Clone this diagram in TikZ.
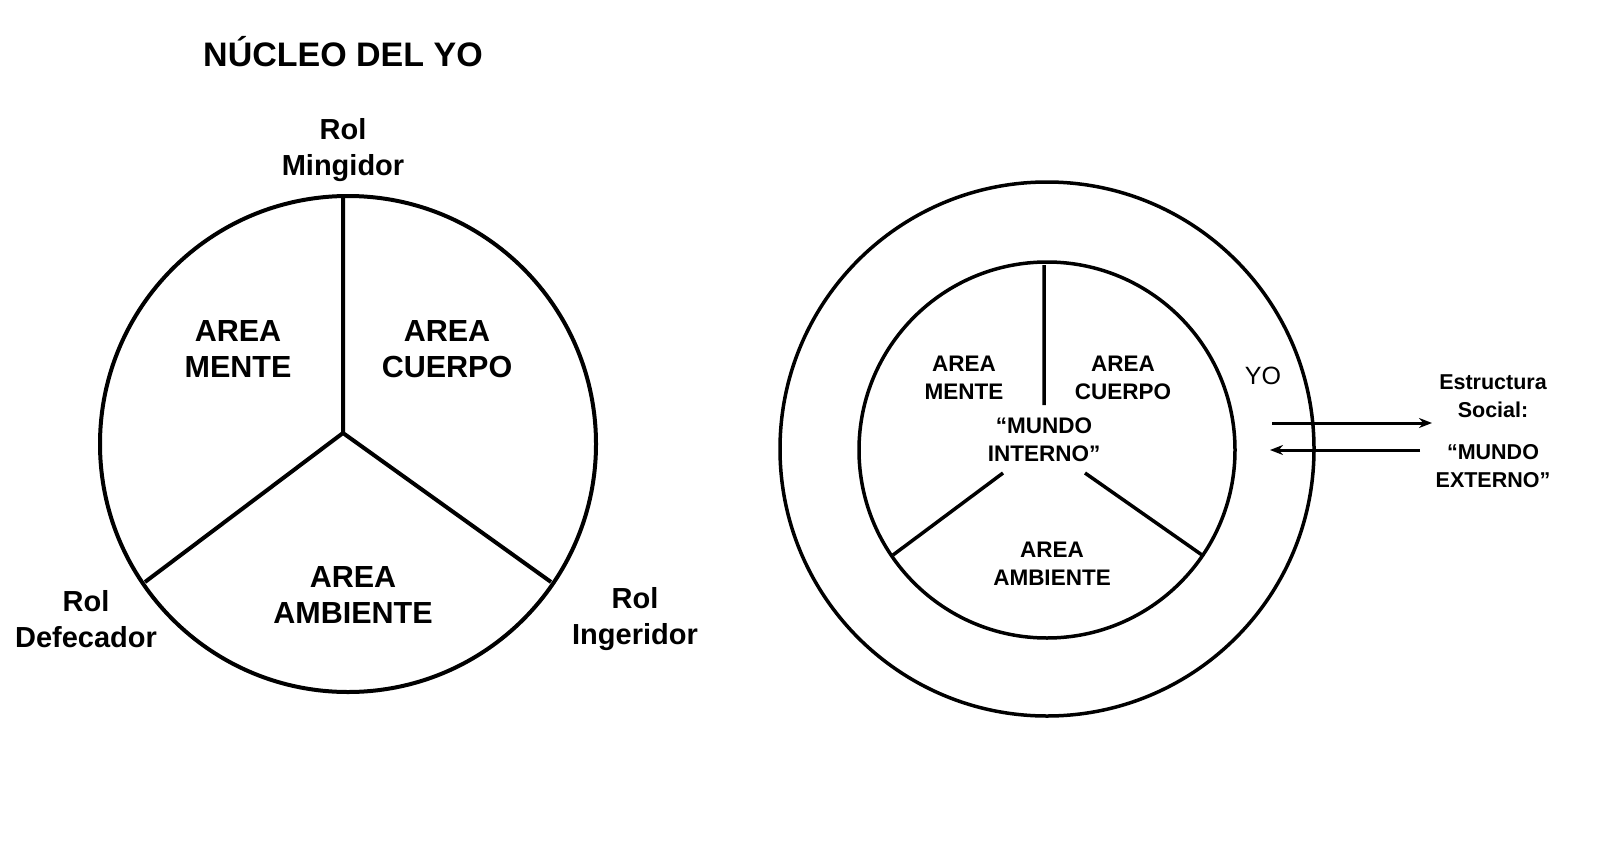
\documentclass[tikz,border=0pt]{standalone}
\usepackage{fontspec}
\usetikzlibrary{arrows.meta}
\setmainfont{Liberation Sans}
\begin{document}
\begin{tikzpicture}[x=1pt,y=-1pt,line width=4pt,
 big/.style={font=\bfseries\fontsize{30.5}{36}\selectfont,align=center},
 mid/.style={font=\bfseries\fontsize{29}{36}\selectfont,align=center},
 sm/.style={font=\bfseries\fontsize{22.5}{28}\selectfont,align=center},
 xs/.style={font=\bfseries\fontsize{21.5}{28}\selectfont,align=center}]
\useasboundingbox (0,0) rectangle (1600,859);
\node[font=\bfseries\fontsize{34}{38}\selectfont] (t) at (343,52) {NÚCLEO DEL YO};
\draw (348,444) circle (248);
\coordinate (c) at (343,433);
\coordinate (top) at (343,198);
\coordinate (l) at (145,582);
\coordinate (r) at (551,582);
\draw (c)--(top) (c)--(l) (c)--(r);
\node[big] (am) at (238,349) {AREA\\MENTE};
\node[big] (ac) at (447,349) {AREA\\CUERPO};
\node[big] (aa) at (353,595) {AREA\\AMBIENTE};
\node[mid] (rm) at (343,150) {Rol\\Mingidor};
\node[mid] (rd) at (86,619) {Rol\\Defecador};
\node[mid] (ri) at (635,619) {Rol\\Ingeridor};
\draw[line width=3.5pt] (1047,449) circle (267);
\draw[line width=3.5pt] (1047,450) circle (188);
\draw[line width=3.5pt] (1044,265)--(1044,405) (1003,473)--(893,555) (1085,473)--(1202,555);
\node[sm] (bm) at (964,378) {AREA\\MENTE};
\node[sm] (bc) at (1123,378) {AREA\\CUERPO};
\node[sm] (mi) at (1044,440) {“MUNDO\\INTERNO”};
\node[sm] (ba) at (1052,564) {AREA\\AMBIENTE};
\node[font=\fontsize{25}{28}\selectfont] (yo) at (1263,376) {YO};
\node[xs] (es) at (1493,396) {Estructura\\Social:};
\node[xs] (me) at (1493,466) {“MUNDO\\EXTERNO”};
\coordinate (a1) at (1272,423); \coordinate (a2) at (1432,423);
\coordinate (b1) at (1420,450); \coordinate (b2) at (1270,450);
\draw[line width=3pt,-{Stealth[length=13pt,width=10pt]}] (a1)--(a2);
\draw[line width=3pt,-{Stealth[length=13pt,width=10pt]}] (b1)--(b2);
\end{tikzpicture}
\end{document}
